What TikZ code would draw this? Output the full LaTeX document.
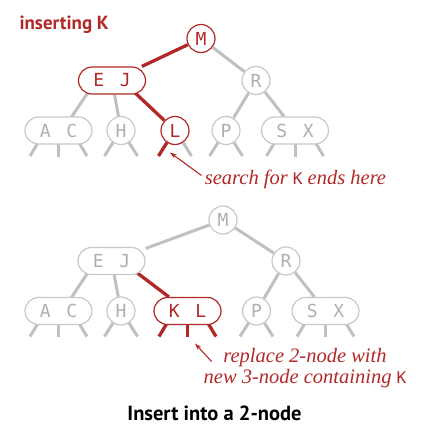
\documentclass[tikz,border=0pt]{standalone}
\usepackage{fontspec}
\usetikzlibrary{arrows.meta,backgrounds,calc}
\newfontfamily\keyfont{DejaVu Sans Mono}
\newfontfamily\labfont{PT Sans}
\newfontfamily\notefont{Liberation Serif}
\definecolor{bookred}{RGB}{178,40,40}
\definecolor{edgegray}{RGB}{192,192,192}
\definecolor{nodegray}{RGB}{200,200,200}
\definecolor{textgray}{RGB}{175,175,175}
\newcommand\keysetup{\keyfont\fontsize{18}{18}\selectfont\spaceskip=15.7pt\relax}
\tikzset{
  keytxt/.style={font={\keysetup}},
  twonode/.style={circle, draw=nodegray, fill=white, line width=1.2pt,
    minimum size=28pt, inner sep=0pt, text=textgray, keytxt},
  threenode/.style={rectangle, rounded corners=13.5pt, draw=nodegray, fill=white,
    line width=1.2pt, minimum width=67pt, minimum height=27pt, inner sep=0pt,
    text=textgray, keytxt},
  redtwo/.style={twonode, draw=bookred, text=bookred},
  redthree/.style={threenode, draw=bookred, text=bookred},
  link/.style={draw=edgegray, line width=3pt},
  redlink/.style={draw=bookred, line width=3.3pt},
  note/.style={text=bookred, font={\notefont\itshape\fontsize{20.5}{20.8}\selectfont}},
  pointer/.style={draw=bookred, line width=1.1pt, -{Stealth[length=7pt,width=4.5pt]}},
  heading/.style={font={\labfont\bfseries\fontsize{19}{19}\selectfont}},
}
\newcommand\twostubs[3]{%
  \draw[#2] ($(#1)+(-8,12)$) -- ($(#1)+(-16.5,25.5)$);
  \draw[#3] ($(#1)+(8,12)$) -- ($(#1)+(16.5,25.5)$);}
\newcommand\threestubs[4]{%
  \draw[#2] ($(#1)+(-21,13)$) -- ($(#1)+(-28.5,25.5)$);
  \draw[#3] ($(#1)+(0,13)$) -- ($(#1)+(0,26)$);
  \draw[#4] ($(#1)+(21,13)$) -- ($(#1)+(28.5,25.5)$);}
\newcommand\monoK{{\keyfont\upshape\fontsize{16}{16}\selectfont K}}
\begin{document}
\begin{tikzpicture}[x=1pt,y=-1pt]
\useasboundingbox (0,0) rectangle (423,437);
% ---------- top tree ----------
\node[heading, text=bookred, anchor=base west] (title1) at (16,29.5) {inserting K};
\node[redtwo] (M1) at (201,38.5) {M};
\node[redthree] (EJ1) at (112,80.5) {E J};
\node[twonode] (R1) at (256,80.5) {R};
\node[threenode] (AC1) at (58.5,130.5) {A C};
\node[twonode] (H1) at (121,130.5) {H};
\node[redtwo] (L1) at (175,130.5) {L};
\node[twonode] (P1) at (226,130.5) {P};
\node[threenode] (SX1) at (295,130.5) {S X};
\begin{scope}[on background layer]
  \draw[redlink] (M1) -- (EJ1);
  \draw[link] (M1) -- (R1);
  \draw[link] ($(EJ1)+(-16,0)$) -- ($(AC1)+(4,0)$);
  \draw[link] (EJ1) -- (H1);
  \draw[redlink] ($(EJ1)+(10,0)$) -- (L1);
  \draw[link] (R1) -- (P1);
  \draw[link] (R1) -- (SX1);
  \threestubs{AC1}{link}{link}{link}
  \twostubs{H1}{link}{link}
  \twostubs{L1}{redlink}{link}
  \twostubs{P1}{link}{link}
  \threestubs{SX1}{link}{link}{link}
\end{scope}
\node[note, anchor=base] (note1) at (295.5,184) {search for \monoK\ ends here};
\coordinate (tail1) at (201.5,175.5);
\coordinate (tip1) at (170,152.5);
\draw[pointer] (tail1) -- (tip1);
% ---------- bottom tree ----------
\node[twonode] (M2) at (223,220) {M};
\node[threenode] (EJ2) at (111.5,261) {E J};
\node[twonode] (R2) at (286,261) {R};
\node[threenode] (AC2) at (58.5,311) {A C};
\node[twonode] (H2) at (121,311) {H};
\node[redthree] (KL2) at (187.5,311) {K L};
\node[twonode] (P2) at (256.5,311) {P};
\node[threenode] (SX2) at (325.5,311) {S X};
\begin{scope}[on background layer]
  \draw[link] (M2) -- (EJ2);
  \draw[link] (M2) -- (R2);
  \draw[link] ($(EJ2)+(-16,0)$) -- ($(AC2)+(4,0)$);
  \draw[link] (EJ2) -- (H2);
  \draw[redlink] ($(EJ2)+(10,0)$) -- (KL2);
  \draw[link] (R2) -- (P2);
  \draw[link] (R2) -- (SX2);
  \threestubs{AC2}{link}{link}{link}
  \twostubs{H2}{link}{link}
  \threestubs{KL2}{redlink}{redlink}{redlink}
  \twostubs{P2}{link}{link}
  \threestubs{SX2}{link}{link}{link}
\end{scope}
\node[note, anchor=base, align=center] (note2) at (305,383.5)
  {replace 2-node with\\new 3-node containing \monoK};
\coordinate (tail2) at (211.5,361.5);
\coordinate (tip2) at (195,343.5);
\draw[pointer] (tail2) -- (tip2);
\node[font={\labfont\bfseries\fontsize{20.5}{20.5}\selectfont}, anchor=base] (caption) at (214.5,420) {Insert into a 2-node};
\end{tikzpicture}
\end{document}
